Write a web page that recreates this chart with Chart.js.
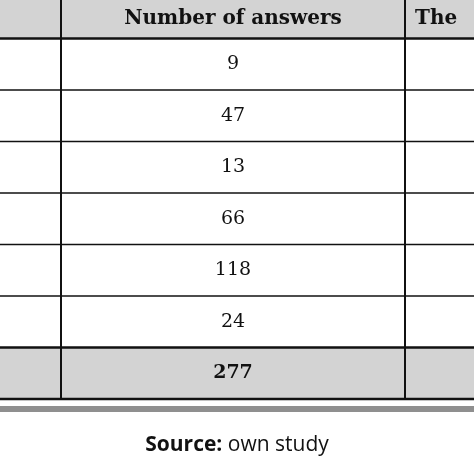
<!DOCTYPE html>
<html>
<head>
<script src="https://cdn.jsdelivr.net/npm/chart.js@4"></script>
<style>
  html, body { margin: 0; padding: 0; background: #fff; overflow: hidden; }
  #wrap { width: 474px; height: 487px; margin-top: -13px; }
</style>
</head>
<body>
<div id="wrap"><canvas id="table"></canvas></div>
<script>
  // table content
  const headers = ['', 'Number of answers', 'The'];
  const rows = ['r1', 'r2', 'r3', 'r4', 'r5', 'r6'];
  const answers = [9, 47, 13, 66, 118, 24];
  const total = 277;
  const colEdges = [0, 61, 405, 474];

  const tablePlugin = {
    id: 'tablePlugin',
    afterDraw(chart) {
      const ctx = chart.ctx;
      const x = chart.scales.x, y = chart.scales.y;
      const n = rows.length + 2; // header + rows + total
      const rowTop = i => y.getPixelForValue(i - 0.5);
      const rowBot = i => y.getPixelForValue(i + 0.5);
      const L = x.getPixelForValue(colEdges[0]), R = x.getPixelForValue(colEdges[3]);
      ctx.save();
      // grey header and total rows
      ctx.fillStyle = '#d3d3d3';
      ctx.fillRect(L, rowTop(0), R - L, rowBot(0) - rowTop(0));
      ctx.fillRect(L, rowTop(n - 1), R - L, rowBot(n - 1) - rowTop(n - 1));
      // horizontal lines
      ctx.strokeStyle = '#111';
      for (let i = 1; i < n; i++) {
        ctx.lineWidth = (i === 1 || i === n - 1) ? 2.5 : 1.5;
        ctx.beginPath(); ctx.moveTo(L, rowTop(i)); ctx.lineTo(R, rowTop(i)); ctx.stroke();
      }
      ctx.lineWidth = 2.5;
      ctx.beginPath(); ctx.moveTo(L, rowBot(n - 1)); ctx.lineTo(R, rowBot(n - 1)); ctx.stroke();
      // vertical lines
      ctx.lineWidth = 2;
      [colEdges[1], colEdges[2]].forEach(c => {
        const px = x.getPixelForValue(c);
        ctx.beginPath(); ctx.moveTo(px, rowTop(0)); ctx.lineTo(px, rowBot(n - 1)); ctx.stroke();
      });
      // grey rule under table
      ctx.fillStyle = '#8f8f8f';
      ctx.fillRect(L, rowBot(n - 1) + 7, R - L, 6);
      // texts
      ctx.fillStyle = '#111';
      ctx.textBaseline = 'middle';
      const cx = col => x.getPixelForValue((colEdges[col] + colEdges[col + 1]) / 2);
      const cy = i => (rowTop(i) + rowBot(i)) / 2;
      ctx.font = 'bold 20px "DejaVu Serif", serif';
      ctx.textAlign = 'center';
      ctx.fillText(headers[1], cx(1), cy(0) + 6);
      ctx.textAlign = 'left';
      ctx.fillText(headers[2], x.getPixelForValue(colEdges[2]) + 10, cy(0) + 6);
      ctx.textAlign = 'center';
      ctx.font = '19px "DejaVu Serif", serif';
      answers.forEach((v, i) => ctx.fillText(String(v), cx(1), cy(i + 1)));
      ctx.font = 'bold 19px "DejaVu Serif", serif';
      ctx.fillText(String(total), cx(1), cy(n - 1));
      // caption
      const capY = rowBot(n - 1) + 46;
      ctx.font = 'bold 21px "Open Sans", sans-serif';
      const s1 = 'Source:', s2 = ' own study';
      const w1 = ctx.measureText(s1).width;
      ctx.font = '21px "Open Sans", sans-serif';
      const w2 = ctx.measureText(s2).width;
      const sx = 237 - (w1 + w2) / 2;
      ctx.textAlign = 'left';
      ctx.font = 'bold 21px "Open Sans", sans-serif';
      ctx.fillText(s1, sx, capY);
      ctx.font = '21px "Open Sans", sans-serif';
      ctx.fillText(s2, sx + w1, capY);
      ctx.restore();
    }
  };

  const yLabels = ['header'].concat(rows, ['total']);
  new Chart(document.getElementById('table'), {
    type: 'bar',
    data: { labels: yLabels, datasets: [{ data: yLabels.map(() => null) }] },
    options: {
      responsive: true,
      maintainAspectRatio: false,
      animation: false,
      indexAxis: 'y',
      layout: { padding: { top: 0, bottom: 75 } },
      plugins: { legend: { display: false }, tooltip: { enabled: false } },
      scales: {
        x: { type: 'linear', min: colEdges[0], max: colEdges[3], display: false },
        y: { type: 'category', display: false, offset: true }
      }
    },
    plugins: [tablePlugin]
  });
</script>
</body>
</html>
